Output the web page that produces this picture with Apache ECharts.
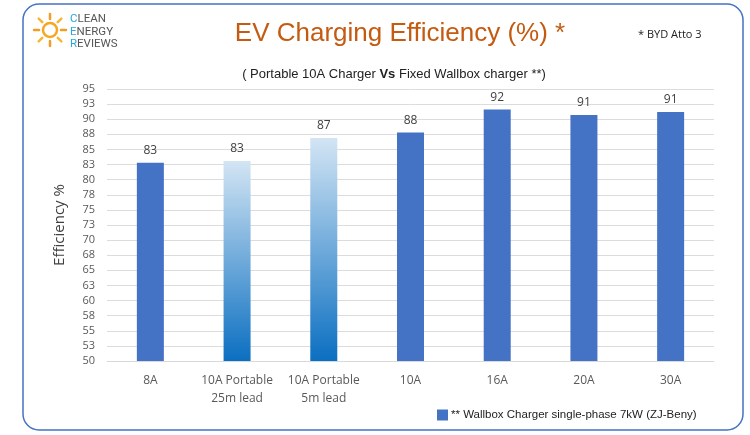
<!DOCTYPE html>
<html><head><meta charset="utf-8">
<script src="https://cdn.jsdelivr.net/npm/echarts@6/dist/echarts.min.js"></script>
<style>html,body{margin:0;padding:0;background:#fff}#c{width:750px;height:435px}</style>
</head><body><div id="c"></div>
<script>
var categories = ['8A', '10A Portable\n25m lead', '10A Portable\n5m lead', '10A', '16A', '20A', '30A'];
var values = [82.8, 83.1, 86.9, 87.8, 91.6, 90.7, 91.2];
var portable = [false, true, true, false, false, false, false];
var yTicks = {min: 50, max: 95, interval: 2.5};
var seriesName = '** Wallbox Charger single-phase 7kW (ZJ-Beny)';

var chart = echarts.init(document.getElementById('c'));
var gradient = new echarts.graphic.LinearGradient(0, 0, 0, 1, [
  {offset: 0, color: '#d3e5f4'},
  {offset: 1, color: '#0b6fc1'}
]);
var data = values.map(function (v, i) {
  return {value: v, itemStyle: {color: portable[i] ? gradient : '#4472C4'}};
});

// sun rays
var rays = [];
for (var k = 0; k < 8; k++) {
  var a = k * Math.PI / 4;
  var cx = 50, cy = 30;
  rays.push({type: 'line', shape: {x1: cx + Math.cos(a) * 11, y1: cy + Math.sin(a) * 11, x2: cx + Math.cos(a) * 16, y2: cy + Math.sin(a) * 16},
    style: {stroke: k % 2 ? '#f7b733' : '#f39c26', lineWidth: 2.5, lineCap: 'round'}});
}

chart.setOption({
  animation: false,
  title: [{
    text: 'EV Charging Efficiency (%) *', left: 395, top: 16, textAlign: 'center',
    textStyle: {color: '#C55A11', fontSize: 26, fontWeight: 'normal', fontFamily: 'Liberation Sans'}
  }, {
    text: '* BYD Atto 3', left: 633, top: 24,
    textStyle: {color: '#222', fontSize: 11, fontWeight: 'normal', fontFamily: 'Open Sans'}
  }, {
    text: '( Portable 10A Charger {b|Vs} Fixed Wallbox charger **)', left: 389, top: 63, textAlign: 'center',
    textStyle: {color: '#222', fontSize: 13, fontWeight: 'normal', fontFamily: 'Liberation Sans',
      rich: {b: {fontWeight: 'bold', fontSize: 13, fontFamily: 'Liberation Sans', color: '#222'}}}
  }],
  graphic: [{
    type: 'rect', shape: {x: 23, y: 4, width: 720, height: 426, r: 16},
    style: {fill: 'none', stroke: '#4472C4', lineWidth: 1.5}
  }, {
    type: 'circle', shape: {cx: 50, cy: 30, r: 7}, style: {fill: 'none', stroke: '#f5a623', lineWidth: 2.5}
  }].concat(rays).concat([{
    type: 'text', left: 70, top: 13,
    style: {text: '{c|C}LEAN\n{c|E}NERGY\n{c|R}EVIEWS', fontSize: 11.5, lineHeight: 12.5, fill: '#555', fontFamily: 'Roboto',
      rich: {c: {fill: '#2aa8e0', fontSize: 11.5, fontFamily: 'Roboto'}}}
  }]),
  legend: {
    data: [seriesName], left: 432, top: 404, itemWidth: 11, itemHeight: 11, itemGap: 5,
    icon: 'rect',
    textStyle: {color: '#222', fontSize: 11.5, fontFamily: 'Liberation Sans', padding: [0, 0, 0, -2]}
  },
  grid: {left: 107, right: 36, top: 89, bottom: 74},
  xAxis: {
    type: 'category', data: categories,
    axisLine: {lineStyle: {color: '#d9d9d9'}}, axisTick: {show: false},
    axisLabel: {color: '#595959', fontSize: 12, fontFamily: 'Open Sans', margin: 11, lineHeight: 18, interval: 0}
  },
  yAxis: {
    type: 'value', min: yTicks.min, max: yTicks.max, interval: yTicks.interval,
    name: 'Efficiency %', nameLocation: 'middle', nameGap: 40,
    nameTextStyle: {color: '#404040', fontSize: 15, fontFamily: 'Open Sans'},
    axisLine: {show: false}, axisTick: {show: false},
    axisLabel: {color: '#595959', fontSize: 11, fontFamily: 'Open Sans', margin: 12,
      formatter: function (v) { return Math.round(v); }},
    splitLine: {lineStyle: {color: '#dcdcdc', width: 1}}
  },
  series: [{
    name: seriesName, type: 'bar', data: data, barWidth: 27,
    itemStyle: {color: '#4472C4'},
    label: {show: true, position: 'top', distance: 6, color: '#404040', fontSize: 12, fontFamily: 'Open Sans',
      formatter: function (p) { return Math.round(p.value); }}
  }]
});
</script></body></html>
